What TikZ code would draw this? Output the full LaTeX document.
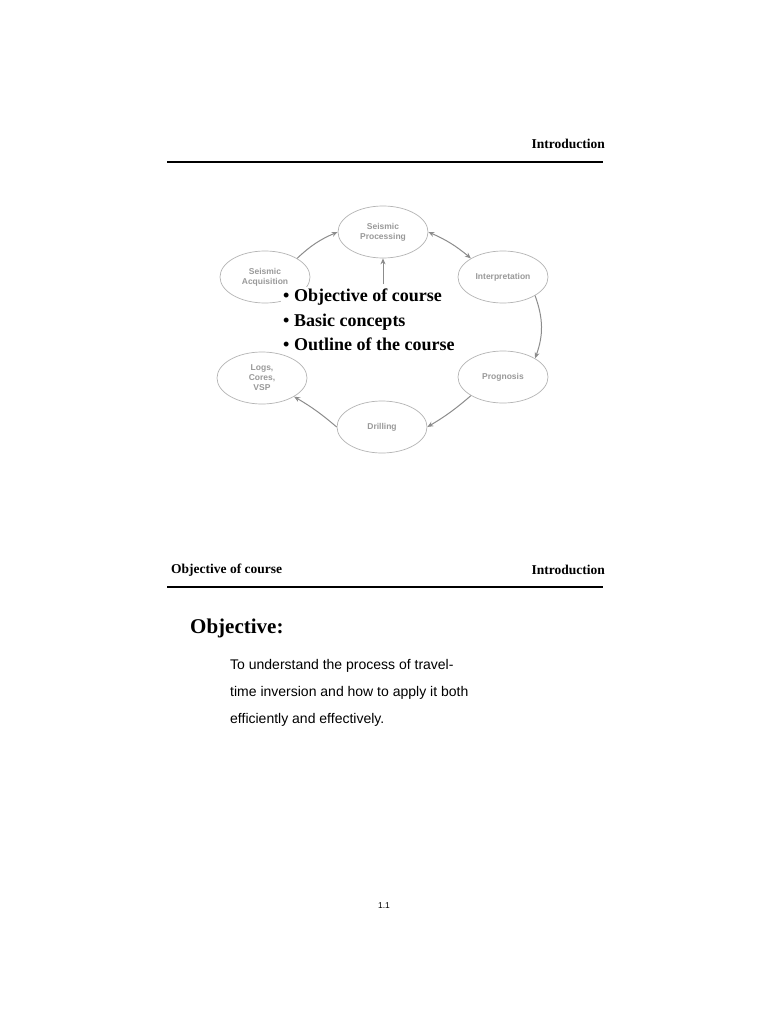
\documentclass[tikz,border=0pt]{standalone}
\usepackage{fontspec}
\setmainfont{Liberation Serif}
\newfontfamily\arial{Liberation Sans}
\usetikzlibrary{shapes.geometric,arrows.meta}
\definecolor{gtxt}{HTML}{999999}
\definecolor{gline}{HTML}{8C8C8C}
\definecolor{gell}{HTML}{B4B4B4}
\begin{document}
\begin{tikzpicture}[x=1pt,y=-1pt,
  ell/.style={draw=gell,line width=0.7pt,ellipse,minimum width=90pt,minimum height=52pt,inner sep=0pt,
    font=\arial\fontsize{8.5}{10}\selectfont\bfseries,text=gtxt,align=center,fill=white},
  arr/.style={draw=gline,line width=1pt,-{Stealth[length=6pt,width=5pt]}},
  head/.style={font=\fontsize{13.5}{16}\selectfont\bfseries,inner sep=0pt}]
\path[use as bounding box,fill=white] (0,0) rectangle (768,1024);
\node[head,anchor=east] (h1) at (605,144) {Introduction};
\draw[line width=2.5pt] (167,162) -- (603,162);
\node[ell] (proc) at (383,232) {Seismic\\Processing};
\node[ell] (interp) at (503,277) {Interpretation};
\node[ell] (acq) at (265,277) {Seismic\\Acquisition};
\node[ell] (logs) at (262,378) {Logs,\\Cores,\\VSP};
\node[ell] (prog) at (503,377) {Prognosis};
\node[ell] (drill) at (382,427) {Drilling};
\draw[arr] (acq.north east) to[bend left=10] (proc.west);
\draw[arr,{Stealth[length=6pt,width=5pt]}-{Stealth[length=6pt,width=5pt]}] (proc.east) to[bend left=8] (interp.north west);
\draw[arr] (interp.south east) to[bend left=20] (prog.north east);
\draw[arr] (prog.south west) to[bend left=5] (drill.east);
\draw[arr] (drill.west) to[bend left=-5] (logs.south east);
\coordinate (mid) at (383,284);
\draw[arr] (mid) -- (proc.south);
\node[fill=white,anchor=north west,inner sep=2pt,align=left,font=\fontsize{18}{24.5}\selectfont\bfseries] (list) at (281,287)
 {\textbullet\ Objective of course\\\textbullet\ Basic concepts\\\textbullet\ Outline of the course};
\node[head,anchor=west] (h2l) at (171,570) {Objective of course};
\node[head,anchor=east] (h2r) at (605,570) {Introduction};
\draw[line width=2.5pt] (167,587) -- (603,587);
\node[anchor=west,inner sep=0pt,font=\fontsize{21}{24}\selectfont\bfseries] (obj) at (190,628) {Objective:};
\node[anchor=north west,inner sep=0pt,align=left,font=\arial\fontsize{14}{27}\selectfont] (body) at (230,659)
 {To understand the process of travel-\\time inversion and how to apply it both\\efficiently and effectively.};
\node[font=\arial\fontsize{8.5}{10}\selectfont] (pg) at (384,906) {1.1};
\end{tikzpicture}
\end{document}
